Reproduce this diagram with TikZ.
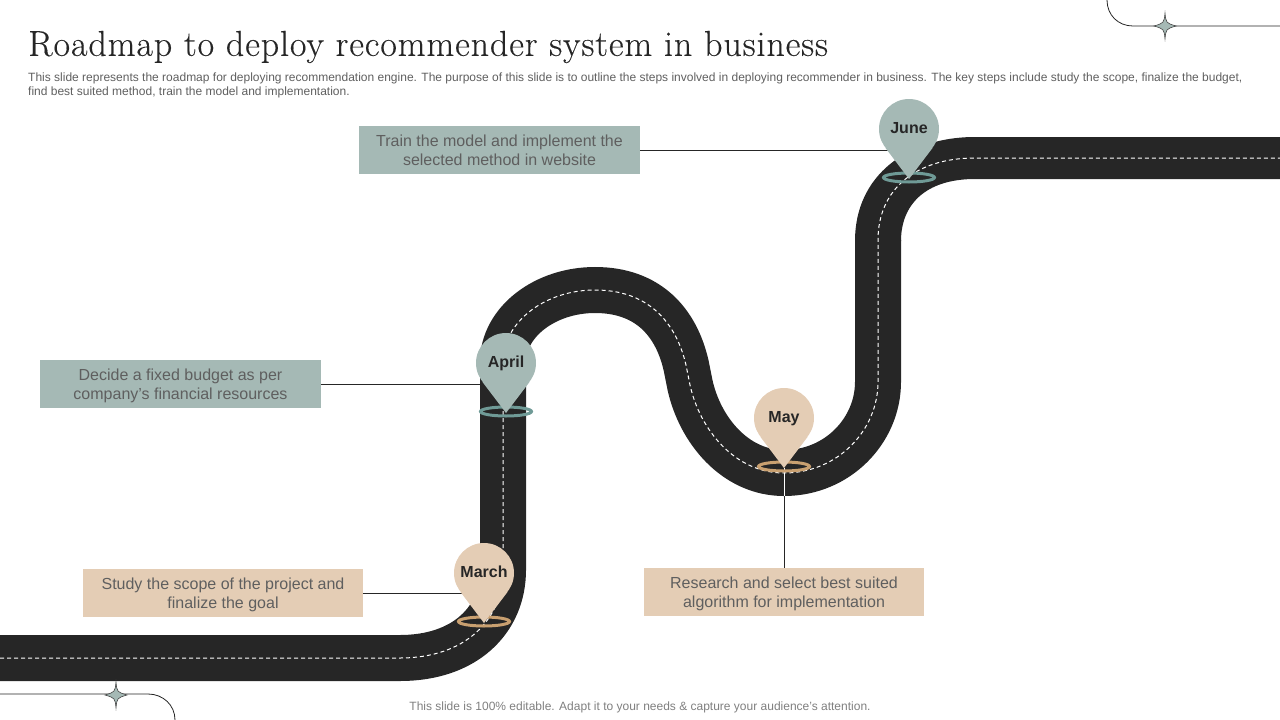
\documentclass[tikz,border=0pt]{standalone}
\usepackage{fontspec}
\setmainfont{Liberation Sans}
\newfontfamily\titlefont[LetterSpace=2.5,FakeBold=0.25]{Latin Modern Roman}
\usepackage{xcolor}
\usetikzlibrary{positioning}
\definecolor{roadgray}{HTML}{262626}
\definecolor{sagepin}{HTML}{A5B9B5}
\definecolor{sandpin}{HTML}{E4CDB5}
\definecolor{sagering}{HTML}{6F9A96}
\definecolor{sandring}{HTML}{C9A070}
\definecolor{bodygray}{HTML}{5F5F5F}
\pgfdeclarelayer{road}
\pgfdeclarelayer{lines}
\pgfsetlayers{road,lines,main}
\tikzstyle{stepbox} = [minimum width=280.5, minimum height=48, inner sep=0, align=center, text=bodygray, font=\fontsize{16}{19}\selectfont]
\tikzstyle{pinhead} = [circle, minimum size=60, inner sep=0, text height=9.5, text depth=0, text=roadgray, font=\fontsize{16}{19}\selectfont\bfseries]
\tikzstyle{leader} = [draw=roadgray, line width=0.8]
\tikzstyle{deco} = [draw=roadgray, line width=0.8]
\tikzstyle{spark} = [fill=sagepin, draw=roadgray!85, line width=0.6]
\newcommand{\roadpath}{(0,658) -- (400,658) .. controls (465,658) and (503,620) .. (503,570) -- (503,362) .. controls (503,322) and (545,290) .. (595,290) .. controls (648,290) and (676,322) .. (686,365) -- (690,385) .. controls (700,430) and (735,473) .. (784,473) .. controls (838,473) and (878,430) .. (878,382) -- (878,240)}
\newcommand{\highstrut}{\rule{0pt}{15.5pt}}
\newcommand{\lowstrut}{\rule[-3.4pt]{0pt}{3.4pt}}
\begin{document}
\begin{tikzpicture}[x=1pt,y=-1pt]
    \useasboundingbox (0,0) rectangle (1280,720);

    \begin{pgfonlayer}{road}
        \draw[roadgray, line width=46] \roadpath;
        \fill[roadgray] (855,241) .. controls (855,175) and (908,137) .. (975,137) -- (1280,137) -- (1280,179) -- (975,179) .. controls (925,179) and (901,205) .. (901,241) -- cycle;
        \draw[white, line width=1, dash pattern=on 4 off 3] \roadpath .. controls (878,190) and (915,158) .. (975,158) -- (1280,158);
    \end{pgfonlayer}

    \node[anchor=west, inner sep=0, text=roadgray, font=\titlefont\fontsize{36}{42}\selectfont] (title) at (28,47) {Roadmap to deploy recommender system in business};
    \node[anchor=north west, inner sep=0, align=left, text=bodygray, font=\fontsize{12}{14}\selectfont] (subtitle) at (28,73) {This slide represents the roadmap for deploying recommendation engine. The purpose of this slide is to outline the steps involved in deploying recommender in business. The key steps include study the scope, finalize the budget,\\find best suited method, train the model and implementation.};
    \node[text=bodygray!80, inner sep=0, font=\fontsize{12}{14}\selectfont] (footer) at (640,707) {This slide is 100\% editable. Adapt it to your needs \& capture your audience's attention.};

    \node[stepbox, fill=sagepin] (train) at (499.5,150) {\highstrut Train the model and implement the\\selected method in website\lowstrut};
    \node[stepbox, fill=sagepin] (budget) at (180.5,384) {\highstrut Decide a fixed budget as per\\company's financial resources\lowstrut};
    \node[stepbox, fill=sandpin] (scope) at (223,593) {\highstrut Study the scope of the project and\\finalize the goal\lowstrut};
    \node[stepbox, fill=sandpin] (research) at (784,592) {\highstrut Research and select best suited\\algorithm for implementation\lowstrut};

    \foreach \name/\month/\col/\ringcol/\x/\y in {june/June/sagepin/sagering/909/129, april/April/sagepin/sagering/506/363, march/March/sandpin/sandring/484/573, may/May/sandpin/sandring/784/418}{
        \draw[\ringcol, line width=3] (\x,\y+48.5) ellipse [x radius=25.5, y radius=4.5];
        \node[pinhead, fill=\col] (\name) at (\x,\y) {\month};
        \coordinate (\name-tip) at (\x,\y+50);
        \fill[\col] (\name.-38) -- (\name-tip) -- (\name.-142) -- cycle;
    }

    \coordinate (roadedge) at (784,496);
    \begin{pgfonlayer}{lines}
        \draw[leader] (train.east) -- (train.east -| june.center);
        \draw[leader] (budget.east) -- (budget.east -| april.center);
        \draw[leader] (scope.east) -- (scope.east -| march.center);
        \draw[leader] (research.north) -- (roadedge);
        \draw[white, line width=0.8] (roadedge) -- (may-tip);
    \end{pgfonlayer}

    \draw[deco] (1107,0) .. controls (1107,15) and (1118,26) .. (1133,26) -- (1280,26);
    \draw[deco] (0,694) -- (148,694) .. controls (163,694) and (175,705) .. (175,720);
    \foreach \sx/\sy in {1165/26, 116/695}{
        \draw[spark] (\sx,\sy-13) .. controls (\sx+1,\sy-3) .. (\sx+11,\sy) .. controls (\sx+1,\sy+3) .. (\sx,\sy+13) .. controls (\sx-1,\sy+3) .. (\sx-11,\sy) .. controls (\sx-1,\sy-3) .. cycle;
    }
\end{tikzpicture}
\end{document}
